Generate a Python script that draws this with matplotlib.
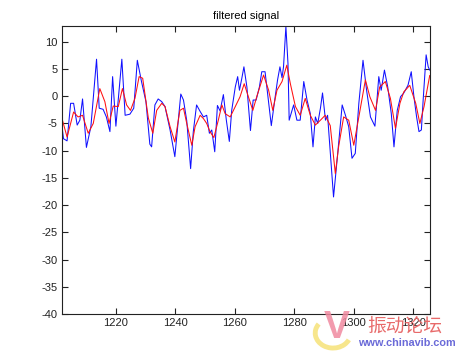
import matplotlib
matplotlib.use("Agg")
import matplotlib.pyplot as plt
from matplotlib.patches import Arc

plt.rcParams['font.family'] = ['Liberation Sans', 'DejaVu Sans']
plt.rcParams['axes.unicode_minus'] = False

title = "filtered signal"

blue_x = [1202.0, 1202.5, 1203.7, 1204.9, 1205.9, 1207.1, 1208.0, 1208.9, 1210.2, 1211.7,
          1213.6, 1214.5, 1215.8, 1216.9, 1218.1, 1219.0, 1220.1, 1222.1, 1223.2, 1224.8,
          1226.1, 1227.3, 1228.7, 1230.2, 1231.5, 1232.1, 1233.2, 1234.3, 1235.5, 1236.6,
          1238.3, 1239.9, 1241.9, 1242.8, 1243.9, 1245.2, 1246.1, 1247.2, 1248.4, 1249.5,
          1250.6, 1251.5, 1252.3, 1253.3, 1254.2, 1255.1, 1256.2, 1257.2, 1258.2, 1259.0,
          1260.2, 1261.0, 1261.6, 1262.4, 1263.1, 1264.1, 1265.3, 1266.2, 1267.2, 1268.3,
          1269.1, 1270.2, 1271.2, 1272.3, 1273.5, 1274.4, 1275.2, 1275.9, 1276.4, 1277.2,
          1277.9, 1278.3, 1279.8, 1280.9, 1282.0, 1283.2, 1284.3, 1285.4, 1286.3, 1287.1,
          1287.9, 1288.8, 1289.5, 1290.5, 1291.2, 1293.2, 1294.4, 1296.1, 1297.2, 1298.3,
          1299.4, 1300.5, 1301.7, 1303.1, 1304.3, 1305.6, 1307.1, 1308.4, 1309.2, 1310.3,
          1311.4, 1312.6, 1313.5, 1314.6, 1315.7, 1316.8, 1318.2, 1319.3, 1320.2, 1321.1,
          1321.9, 1322.7, 1323.3, 1324.3, 1325.0, 1325.5]
blue_y = [-5.5, -7.8, -8.2, -1.3, -1.3, -5.3, -4.4, -0.5, -9.4, -5.6,
          6.8, -2.2, -2.4, -3.8, -6.5, 3.6, -5.5, 6.8, -3.5, -3.3,
          -2.2, 6.6, 2.7, -1.0, -8.8, -9.3, -1.6, -0.5, -1.0, -1.9,
          -6.2, -11.1, 0.4, -0.7, -4.5, -13.3, -6.5, -1.6, -2.8, -3.8,
          -3.5, -6.8, -6.2, -10.2, -1.7, -2.7, 0.3, -4.4, -8.3, -2.6,
          1.7, 3.6, 1.1, 3.3, 5.4, 1.7, -6.3, -0.7, -0.7, 1.7,
          4.5, 4.5, -0.2, -5.4, -0.5, 3.0, 5.4, 3.4, 5.4, 12.8,
          6.0, -4.4, -1.6, -4.4, -4.4, 2.7, -0.7, -3.2, -9.3, -3.8,
          -5.0, -2.2, 0.6, -4.4, -3.5, -18.5, -11.7, -1.6, -3.5, -5.6,
          -11.4, -10.5, -1.3, 6.6, 1.1, -3.8, -5.5, 3.6, 1.1, 4.8,
          1.7, -3.2, -9.3, -2.6, -0.1, 0.6, 2.0, 4.5, -0.1, -3.8,
          -6.5, -6.2, -0.7, 7.6, 5.4, 4.8]

red_x = [1202.0, 1203.7, 1205.9, 1207.4, 1208.9, 1210.8, 1212.5, 1214.7, 1216.4, 1217.8,
         1219.2, 1220.9, 1222.3, 1223.7, 1225.0, 1226.5, 1227.9, 1229.1, 1231.0, 1232.5,
         1233.8, 1235.5, 1236.6, 1238.3, 1239.9, 1241.6, 1242.8, 1243.9, 1245.6, 1246.7,
         1248.4, 1249.5, 1250.6, 1251.7, 1253.0, 1254.5, 1255.7, 1256.8, 1258.5, 1260.2,
         1261.8, 1263.2, 1264.6, 1266.1, 1267.4, 1269.7, 1271.4, 1272.8, 1274.2, 1275.9,
         1277.5, 1278.7, 1280.4, 1282.0, 1283.7, 1285.4, 1287.1, 1288.8, 1290.4, 1292.1,
         1293.8, 1294.9, 1296.6, 1298.3, 1300.0, 1301.7, 1303.9, 1305.4, 1307.3, 1308.7,
         1310.6, 1312.3, 1314.0, 1315.5, 1316.8, 1318.8, 1320.8, 1322.2, 1323.6, 1325.5]
red_y = [-4.1, -7.5, -2.9, -3.8, -3.5, -6.8, -5.0, 1.4, -1.0, -5.0,
         -1.8, -1.9, 1.4, -1.6, -2.6, -0.4, 3.6, 3.3, -4.0, -6.8,
         -2.6, -1.3, -1.9, -5.6, -8.4, -2.6, -2.2, -5.0, -9.0, -5.6,
         -3.5, -4.1, -5.0, -6.5, -7.6, -4.4, -1.6, -3.2, -3.8, -1.9,
         -0.1, 2.3, -0.1, -2.6, -0.1, 3.9, 1.1, -2.6, 1.1, 2.7,
         5.7, 2.3, -1.9, -3.5, -0.4, -3.5, -5.3, -4.4, -3.5, -5.4,
         -14.2, -9.3, -3.8, -4.4, -9.0, -3.8, 3.0, -0.1, -2.6, 1.7,
         2.7, -0.4, -5.9, -1.3, 0.8, 2.0, -1.3, -5.0, -1.9, 3.8]

xticks = [1220, 1240, 1260, 1280, 1300, 1320]
yticks = [10, 5, 0, -5, -10, -15, -20, -25, -30, -35, -40]

fig = plt.figure(figsize=(4.74, 3.54), dpi=100)
ax = fig.add_axes([62/474, 1-314/354, (430-62)/474, (314-26)/354])

ax.plot(blue_x, blue_y, color='#1010ff', lw=0.75)
ax.plot(red_x, red_y, color='#ff1010', lw=0.75)

ax.set_xlim(1202, 1325.6)
ax.set_ylim(-40, 12.9)
ax.set_xticks(xticks)
ax.set_yticks(yticks)
ax.tick_params(direction='in', top=True, right=True, length=4, width=0.8,
               labelsize=8, colors='#222222', pad=3)
for s in ax.spines.values():
    s.set_linewidth(0.8)
    s.set_color('#222222')
ax.set_title(title, fontsize=8, pad=5)

# watermark
arc = Arc((333/474, 1-333/354), 0.075, 0.085, theta1=140, theta2=330,
          transform=fig.transFigure, color='#f5e070', lw=3.5, alpha=0.8)
fig.add_artist(arc)
fig.text(337/474, 1-328/354, "V", fontsize=28, color='#f08aa0', ha='center', va='center',
         fontweight='bold', alpha=0.85)
fig.text(405/474, 1-326/354, "振动论坛", fontsize=13.5, color='#e86a6a', ha='center',
         va='center', family=['Noto Sans CJK SC', 'DejaVu Sans'])
fig.text(407/474, 1-343/354, "www.chinavib.com", fontsize=7.8, color='#6a6ad8', ha='center',
         va='center', fontweight='bold')

fig.savefig("out.png", dpi=100, facecolor='white')
